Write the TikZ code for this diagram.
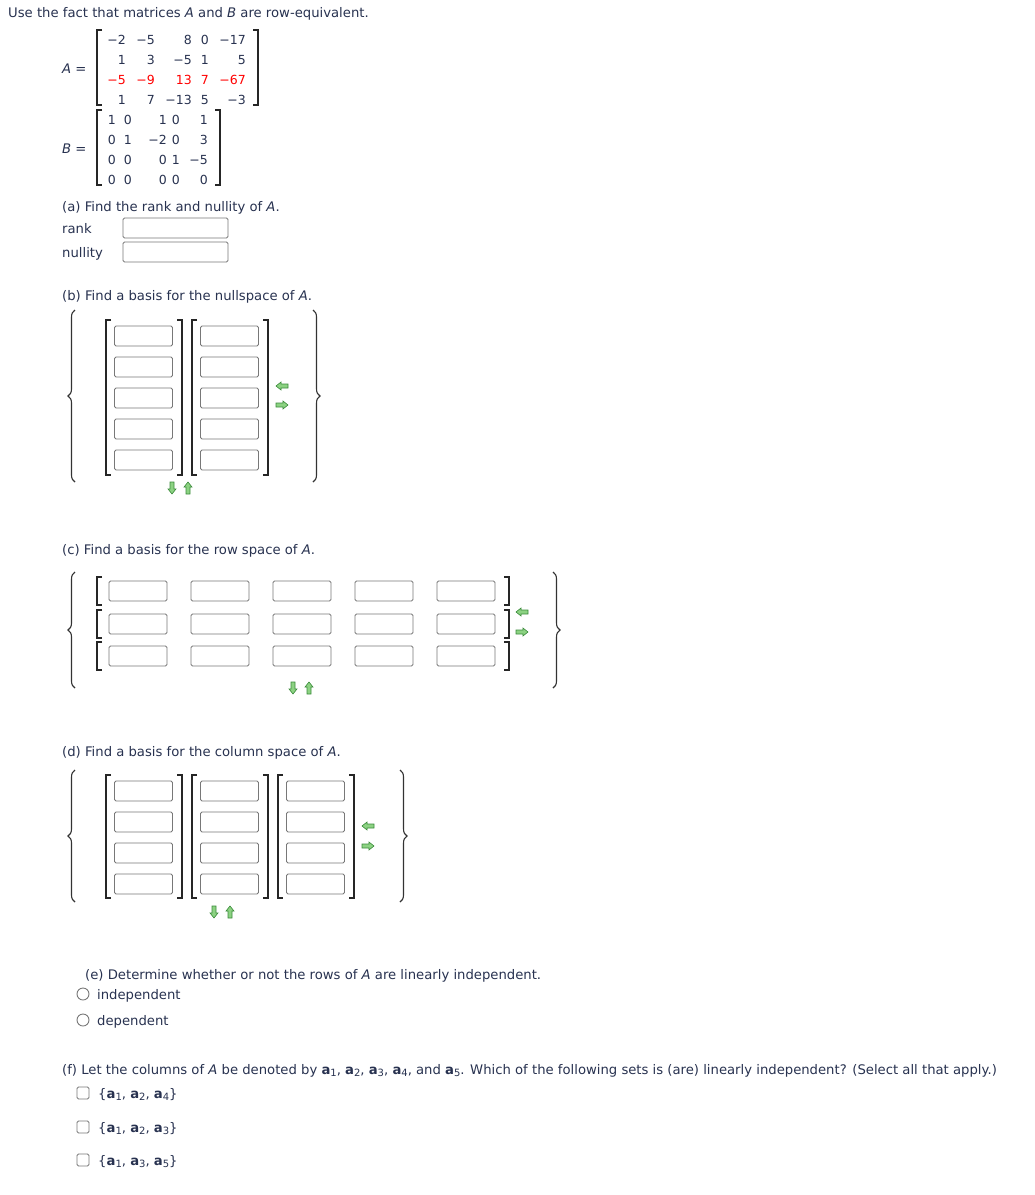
\documentclass[tikz,border=0pt]{standalone}
\usepackage{fontspec}
\setmainfont{DejaVu Sans}
\usetikzlibrary{decorations.pathreplacing}
\definecolor{txt}{RGB}{40,50,80}
\definecolor{bx}{RGB}{120,120,120}
\definecolor{ga}{RGB}{60,140,60}
\definecolor{gf}{RGB}{140,210,130}
\tikzset{
 tx/.style={anchor=base west,inner sep=0,text=txt,font=\fontsize{13.2}{15}\selectfont},
 en/.style={anchor=base east,inner sep=0,text=txt,font=\fontsize{12.5}{14}\selectfont},
 ered/.style={en,text=red},
 abox/.style={draw=bx,line width=0.9pt,rounded corners=1.5pt,minimum width=58pt,minimum height=20pt,inner sep=0},
 brk/.style={line width=1.1pt,black!85},
 brc/.style={decorate,decoration={brace,amplitude=7pt},line width=1.1pt,black!80},
 garr/.style={fill=gf,draw=ga,line width=0.6pt,line join=miter},
 rad/.style={circle,draw=bx,line width=0.9pt,minimum size=12pt,inner sep=0},
 chk/.style={draw=bx,line width=0.9pt,rounded corners=1.5pt,minimum size=12pt,inner sep=0},
}
\newcommand{\lbrk}[3]{\draw[brk] (#1+5,#2) -- (#1,#2) -- (#1,#3) -- (#1+5,#3);}
\newcommand{\rbrk}[3]{\draw[brk] (#1-5,#2) -- (#1,#2) -- (#1,#3) -- (#1-5,#3);}
\newcommand{\gleft}[2]{\draw[garr] (#1-6,#2) -- (#1-1,#2-4) -- (#1-1,#2-2) -- (#1+6,#2-2) -- (#1+6,#2+2) -- (#1-1,#2+2) -- (#1-1,#2+4) -- cycle;}
\newcommand{\gright}[2]{\draw[garr] (#1+6,#2) -- (#1+1,#2-4) -- (#1+1,#2-2) -- (#1-6,#2-2) -- (#1-6,#2+2) -- (#1+1,#2+2) -- (#1+1,#2+4) -- cycle;}
\newcommand{\gdown}[2]{\draw[garr] (#1,#2+6) -- (#1-4,#2+1) -- (#1-2,#2+1) -- (#1-2,#2-6) -- (#1+2,#2-6) -- (#1+2,#2+1) -- (#1+4,#2+1) -- cycle;}
\newcommand{\gup}[2]{\draw[garr] (#1,#2-6) -- (#1-4,#2-1) -- (#1-2,#2-1) -- (#1-2,#2+6) -- (#1+2,#2+6) -- (#1+2,#2-1) -- (#1+4,#2-1) -- cycle;}
\newcommand{\va}[1]{\textbf{a}\raisebox{-2.5pt}{\fontsize{10}{11}\selectfont #1}}
\begin{document}
\begin{tikzpicture}[x=1pt,y=-1pt]
\useasboundingbox[fill=white] (0,0) rectangle (1035,1195);
\node[tx] (title) at (8,17) {Use the fact that matrices \textit{A} and \textit{B} are row-equivalent.};
% Matrix A
\node[tx] (Aeq) at (62,73) {\textit{A} =};
\lbrk{97}{30}{105}\rbrk{258}{30}{105}
\node[en] (a11) at (126,44) {−2};\node[en] (a12) at (155,44) {−5};\node[en] (a13) at (192,44) {8};\node[en] (a14) at (209,44) {0};\node[en] (a15) at (246,44) {−17};
\node[en] (a21) at (126,64) {1};\node[en] (a22) at (155,64) {3};\node[en] (a23) at (192,64) {−5};\node[en] (a24) at (209,64) {1};\node[en] (a25) at (246,64) {5};
\node[ered] (a31) at (126,84) {−5};\node[ered] (a32) at (155,84) {−9};\node[ered] (a33) at (192,84) {13};\node[ered] (a34) at (209,84) {7};\node[ered] (a35) at (246,84) {−67};
\node[en] (a41) at (126,104) {1};\node[en] (a42) at (155,104) {7};\node[en] (a43) at (192,104) {−13};\node[en] (a44) at (209,104) {5};\node[en] (a45) at (246,104) {−3};
% Matrix B
\node[tx] (Beq) at (62,153) {\textit{B} =};
\lbrk{97}{110}{185}\rbrk{220}{110}{185}
\node[en] (b11) at (116,124) {1};\node[en] (b12) at (132,124) {0};\node[en] (b13) at (167,124) {1};\node[en] (b14) at (180,124) {0};\node[en] (b15) at (208,124) {1};
\node[en] (b21) at (116,144) {0};\node[en] (b22) at (132,144) {1};\node[en] (b23) at (167,144) {−2};\node[en] (b24) at (180,144) {0};\node[en] (b25) at (208,144) {3};
\node[en] (b31) at (116,164) {0};\node[en] (b32) at (132,164) {0};\node[en] (b33) at (167,164) {0};\node[en] (b34) at (180,164) {1};\node[en] (b35) at (208,164) {−5};
\node[en] (b41) at (116,184) {0};\node[en] (b42) at (132,184) {0};\node[en] (b43) at (167,184) {0};\node[en] (b44) at (180,184) {0};\node[en] (b45) at (208,184) {0};
% (a)
\node[tx] (pa) at (62,211) {(a) Find the rank and nullity of \textit{A}.};
\node[tx] (rank) at (62,233) {rank};
\node[abox,minimum width=105pt] (rankbox) at (175.5,228) {};
\node[tx] (nul) at (62,257) {nullity};
\node[abox,minimum width=105pt] (nulbox) at (175.5,252) {};
% (b)
\node[tx] (pb) at (62,300) {(b) Find a basis for the nullspace of \textit{A}.};
\draw[brc] (75,482) -- (75,310);
\draw[brc] (313,310) -- (313,482);
\lbrk{106}{320}{475}\rbrk{182}{320}{475}
\lbrk{192}{320}{475}\rbrk{268}{320}{475}
\foreach \y [count=\i] in {336,367,398,429,460}{
  \node[abox] (nb1\i) at (143.5,\y) {};
  \node[abox] (nb2\i) at (229.5,\y) {};
}
\gleft{282}{386}\gright{282}{405}
\gdown{172}{488}\gup{188}{488}
% (c)
\node[tx] (pc) at (62,554) {(c) Find a basis for the row space of \textit{A}.};
\draw[brc] (75,688) -- (75,572);
\draw[brc] (553,572) -- (553,688);
\foreach \y [count=\i] in {591,624,656}{
  \lbrk{97}{\y-14}{\y+14}\rbrk{509}{\y-14}{\y+14}
  \foreach \x [count=\j] in {138,220,302,384,466}{
    \node[abox] (rb\i\j) at (\x,\y) {};
  }
}
\gleft{522}{612}\gright{522}{632}
\gdown{293}{688}\gup{309}{688}
% (d)
\node[tx] (pd) at (62,756) {(d) Find a basis for the column space of \textit{A}.};
\draw[brc] (75,902) -- (75,770);
\draw[brc] (400,770) -- (400,902);
\foreach \xl in {106,192,278}{\lbrk{\xl}{775}{898}\rbrk{\xl+76}{775}{898}}
\foreach \y [count=\i] in {791,822,853,884}{
  \node[abox] (cb1\i) at (143.5,\y) {};
  \node[abox] (cb2\i) at (229.5,\y) {};
  \node[abox] (cb3\i) at (315.5,\y) {};
}
\gleft{368}{826}\gright{368}{846}
\gdown{214}{912}\gup{230}{912}
% (e)
\node[tx] (pe) at (85,979) {(e) Determine whether or not the rows of \textit{A} are linearly independent.};
\node[rad] (r1) at (83,994) {};
\node[tx] (ind) at (97,999) {independent};
\node[rad] (r2) at (83,1020) {};
\node[tx] (dep) at (97,1025) {dependent};
% (f)
\node[tx] (pf) at (62,1074) {(f) Let the columns of \textit{A} be denoted by \va1, \va2, \va3, \va4, and \va5. Which of the following sets is (are) linearly independent? (Select all that apply.)};
\node[chk] (c1) at (83,1093) {};
\node[tx] (s1) at (98,1098) {\{\va1, \va2, \va4\}};
\node[chk] (c2) at (83,1127) {};
\node[tx] (s2) at (98,1132) {\{\va1, \va2, \va3\}};
\node[chk] (c3) at (83,1160) {};
\node[tx] (s3) at (98,1165) {\{\va1, \va3, \va5\}};
\end{tikzpicture}
\end{document}
